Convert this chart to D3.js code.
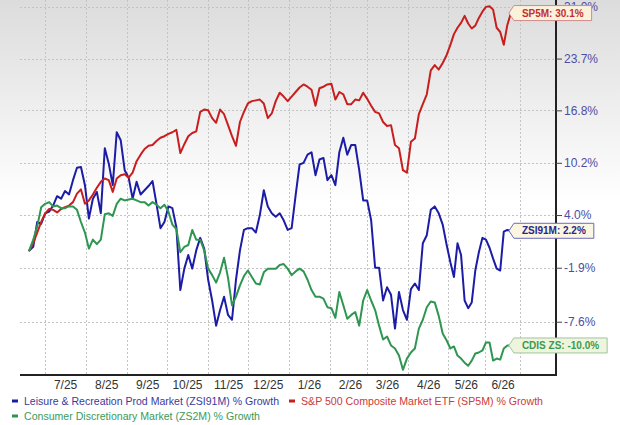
<!DOCTYPE html>
<html><head><meta charset="utf-8">
<script src="https://cdn.jsdelivr.net/npm/d3@7"></script>
<style>html,body{margin:0;padding:0;background:#fff;} svg{display:block;font-family:"Liberation Sans",Arial,sans-serif;}</style>
</head><body><svg id="c" width="620" height="425"></svg>
<script>
const dates = [
"2025-06-19","2025-06-22","2025-06-25","2025-06-28",
"2025-07-01","2025-07-04","2025-07-07","2025-07-10","2025-07-13","2025-07-16","2025-07-19","2025-07-22","2025-07-25","2025-07-28","2025-07-31",
"2025-08-03","2025-08-06","2025-08-09","2025-08-12","2025-08-15","2025-08-18","2025-08-21","2025-08-24","2025-08-27","2025-08-30",
"2025-09-02","2025-09-05","2025-09-08","2025-09-11","2025-09-14","2025-09-17","2025-09-20","2025-09-23","2025-09-26","2025-09-29",
"2025-10-02","2025-10-05","2025-10-08","2025-10-11","2025-10-14","2025-10-17","2025-10-20","2025-10-23","2025-10-26","2025-10-29",
"2025-11-01","2025-11-04","2025-11-07","2025-11-10","2025-11-13","2025-11-16","2025-11-19","2025-11-22","2025-11-25","2025-11-28",
"2025-12-01","2025-12-04","2025-12-07","2025-12-10","2025-12-13","2025-12-16","2025-12-19","2025-12-22","2025-12-25","2025-12-28","2025-12-31",
"2026-01-03","2026-01-06","2026-01-09","2026-01-12","2026-01-15","2026-01-18","2026-01-21","2026-01-24","2026-01-27","2026-01-30",
"2026-02-02","2026-02-05","2026-02-08","2026-02-11","2026-02-14","2026-02-17","2026-02-20","2026-02-23","2026-02-26",
"2026-03-01","2026-03-04","2026-03-07","2026-03-10","2026-03-13","2026-03-16","2026-03-19","2026-03-22","2026-03-25","2026-03-28","2026-03-31",
"2026-04-03","2026-04-06","2026-04-09","2026-04-12","2026-04-15","2026-04-18","2026-04-21","2026-04-24","2026-04-27","2026-04-30",
"2026-05-03","2026-05-06","2026-05-09","2026-05-12","2026-05-15","2026-05-18","2026-05-21","2026-05-24","2026-05-27","2026-05-30",
"2026-06-02","2026-06-05","2026-06-08","2026-06-11","2026-06-14","2026-06-17","2026-06-20","2026-06-23"];

// Leisure & Recreation Prod Market (ZSI91M) % growth
const leisure = [
0.0,0.4,3.2,3.0,
4.2,4.4,5.1,6.2,5.9,6.8,6.4,8.1,9.6,9.7,7.5,
3.6,5.9,6.7,4.2,12.0,10.1,7.5,14.0,13.0,9.3,
8.4,5.9,7.9,6.4,6.9,7.4,8.0,5.3,2.5,3.2,
5.0,4.8,2.6,-4.3,-2.0,-0.5,-2.0,0.0,1.4,0.2,
-3.2,-5.4,-8.0,-6.4,-5.0,-6.9,-7.4,-3.2,0.0,2.3,
2.5,2.5,2.0,4.0,6.9,5.0,4.2,3.8,4.2,3.4,2.3,
2.5,6.3,10.0,10.2,11.2,11.5,8.7,10.6,10.8,8.1,
8.7,7.5,11.5,13.3,11.2,12.4,12.4,9.3,5.7,
5.7,3.4,-1.9,-1.9,-5.4,-4.0,-4.8,-8.3,-4.5,-6.4,-7.4,
-4.2,-3.6,-4.3,0.8,1.7,4.6,5.0,4.2,2.9,0.6,
-1.3,-2.9,0.8,-0.5,-5.4,-6.2,-5.6,-2.2,-0.2,1.4,
1.2,0.3,-0.9,-2.0,-2.2,2.1,2.3,2.2];

// S&P 500 Composite Market ETF (SP5M) % growth
const sp500 = [
0.0,0.8,2.0,3.2,
4.2,4.7,4.6,4.3,4.7,4.9,5.1,5.5,6.5,7.0,5.3,
5.7,6.4,7.2,7.9,8.3,8.1,6.7,8.3,8.7,8.8,
8.4,9.0,10.4,11.2,11.9,12.3,12.4,12.9,13.3,13.5,
13.8,14.0,14.3,11.4,12.5,13.5,13.9,14.1,16.6,16.9,
16.8,15.8,15.2,16.9,16.3,14.9,13.5,12.3,15.3,16.6,
17.7,18.0,18.1,18.2,17.7,15.8,16.4,18.0,19.1,18.6,18.0,
18.6,19.2,19.8,20.2,19.9,19.5,17.4,19.7,19.9,20.2,
20.3,18.2,19.2,18.9,17.6,17.6,18.2,18.1,19.1,
18.3,17.4,16.6,16.4,15.3,14.8,14.9,12.4,12.0,9.3,9.0,
12.8,13.2,16.3,17.6,18.9,22.1,22.8,22.2,23.1,24.2,
25.6,27.1,28.0,28.7,29.7,28.6,27.9,28.3,29.4,30.3,
31.0,31.1,30.6,28.0,27.4,25.6,28.4,30.1];

// Consumer Discretionary Market (ZS2M) % growth
const consDisc = [
0.0,1.2,2.7,4.9,
5.3,5.5,5.0,5.1,4.8,4.8,5.0,5.0,4.6,3.2,2.0,
0.2,1.2,0.7,1.2,4.1,4.2,3.9,5.3,5.9,5.7,
5.8,5.9,5.7,5.5,5.5,5.1,5.5,5.2,4.8,5.2,
4.4,2.9,2.4,-0.2,0.4,0.6,2.3,1.2,1.2,0.0,
-2.0,-2.7,-3.5,-2.4,-0.8,-3.0,-5.9,-5.0,-3.8,-2.8,
-2.2,-2.9,-3.6,-3.7,-2.4,-2.0,-2.0,-2.0,-1.6,-1.5,-2.0,
-2.7,-2.3,-2.0,-2.3,-3.2,-4.3,-5.0,-5.0,-5.2,-6.1,
-6.2,-7.2,-4.5,-5.9,-7.3,-6.9,-6.6,-8.0,-5.4,
-4.3,-5.4,-6.4,-8.0,-9.4,-9.1,-10.0,-10.3,-11.0,-12.4,-11.3,
-10.7,-10.3,-8.3,-7.4,-6.1,-5.5,-5.6,-7.0,-8.8,-9.5,
-10.3,-10.1,-11.0,-11.3,-11.7,-12.0,-11.5,-10.8,-10.7,-10.5,
-9.7,-9.7,-11.5,-11.3,-11.4,-10.3,-10.0,-10.0];

const yTickValues = [31.0, 23.7, 16.8, 10.2, 4.0, -1.9, -7.6];
const xTickLabels = ["7/25","8/25","9/25","10/25","11/25","12/25","1/26","2/26","3/26","4/26","5/26","6/26"];
const legendNames = [
  "Leisure & Recreation Prod Market (ZSI91M) % Growth",
  "S&P 500 Composite Market ETF (SP5M) % Growth",
  "Consumer Discretionary Market (ZS2M) % Growth"];
const calloutNames = ["ZSI91M", "SP5M", "CDIS ZS"];

const W = 620, H = 425;
const plot = {left: 20, right: 556, top: 0, bottom: 375};
const parse = d3.timeParse("%Y-%m-%d");
const t = dates.map(parse);

const x = d3.scaleTime()
  .domain([new Date(2025,5,12), new Date(2026,4,1), new Date(2026,6,31)])
  .range([plot.left, plot.left + 428, plot.right]);
const yLog = d3.scaleLog().domain([0.871, 1.32]).range([plot.bottom, plot.top]);
const y = v => yLog(1 + v / 100);

const svg = d3.select("#c");
const defs = svg.append("defs");
const grad = defs.append("linearGradient").attr("id","bg").attr("x1",0).attr("y1",0).attr("x2",0).attr("y2",1);
grad.append("stop").attr("offset","0").attr("stop-color","#dcdcdc");
grad.append("stop").attr("offset","0.48").attr("stop-color","#ffffff");
grad.append("stop").attr("offset","1").attr("stop-color","#ffffff");
svg.append("rect").attr("width",W).attr("height",H).attr("fill","url(#bg)");

// gridlines
const grid = svg.append("g").attr("stroke","#c4c4c4").attr("stroke-width",1).attr("stroke-dasharray","2,2");
grid.selectAll("line.h").data(yTickValues).join("line")
  .attr("x1",plot.left).attr("x2",plot.right)
  .attr("y1",d=>Math.round(y(d))+0.5).attr("y2",d=>Math.round(y(d))+0.5);
const months = d3.timeMonth.range(new Date(2025,6,1), new Date(2026,6,2));
grid.selectAll("line.v").data(months).join("line")
  .attr("x1",d=>Math.round(x(d))+0.5).attr("x2",d=>Math.round(x(d))+0.5)
  .attr("y1",plot.top).attr("y2",plot.bottom);

// lines
const series = [
  {name: legendNames[0], values: leisure, color: "#1c1ca6", label: calloutNames[0], text: "#26268c", fill: "#fbf6e1", stroke: "#6a6abd"},
  {name: legendNames[1], values: sp500, color: "#c81e1e", label: calloutNames[1], text: "#c42e2e", fill: "#fcf2dc", stroke: "#d08a8a"},
  {name: legendNames[2], values: consDisc, color: "#2e9650", label: calloutNames[2], text: "#3a9a4f", fill: "#eff5dc", stroke: "#9cc69c"}
];
const line = d3.line().x((d,i)=>x(t[i])).y(d=>y(d));
const drawOrder = [0, 1, 2];
drawOrder.forEach(k => {
  const s = series[k];
  svg.append("path").datum(s.values).attr("d", line)
    .attr("fill","none").attr("stroke", s.color).attr("stroke-width", 2)
    .attr("stroke-linejoin","round").attr("stroke-linecap","round");
});

// frame
svg.append("line").attr("x1",plot.left).attr("x2",plot.right+1).attr("y1",plot.bottom).attr("y2",plot.bottom)
  .attr("stroke","#222").attr("stroke-width",2);
svg.append("line").attr("x1",plot.right).attr("x2",plot.right).attr("y1",plot.top).attr("y2",plot.bottom)
  .attr("stroke","#222").attr("stroke-width",2);

// y axis (right)
const yAxis = d3.axisRight(yLog)
  .tickValues(yTickValues.map(v => 1 + v / 100))
  .tickFormat((d,i) => yTickValues[i].toFixed(1) + "%")
  .tickSize(6).tickPadding(2);
const ya = svg.append("g").attr("transform",`translate(${plot.right},0)`).call(yAxis);
ya.select(".domain").remove();
ya.selectAll(".tick line").attr("stroke","#444");
ya.selectAll(".tick text").attr("fill","#4d4da2").attr("font-size","12px")
  .attr("font-family","'Liberation Sans',Arial,sans-serif");

// x axis
const midMonths = xTickLabels.map((d,i) => new Date(2025, 6 + i, 16));
const xAxis = d3.axisBottom(x).tickValues(midMonths)
  .tickFormat((d,i) => xTickLabels[i]).tickSize(0).tickPadding(5);
const xa = svg.append("g").attr("transform",`translate(0,${plot.bottom})`).call(xAxis);
xa.select(".domain").remove();
xa.selectAll(".tick text").attr("fill","#333").attr("font-size","12px")
  .attr("font-family","'Liberation Sans',Arial,sans-serif");

// legend
const legendItems = [
  {s: series[0], x: 12, y: 401, len: 255, tcol: "#3a3a9c"},
  {s: series[1], x: 289, y: 401, len: 242, tcol: "#cc3a3a"},
  {s: series[2], x: 12, y: 416, len: 236, tcol: "#3a9a5a"}
];
const lg = svg.append("g");
legendItems.forEach(it => {
  lg.append("rect").attr("x", it.x).attr("y", it.y - 1.5).attr("width", 6).attr("height", 3).attr("fill", it.s.color);
  lg.append("text").attr("x", it.x + 12).attr("y", it.y + 4).text(it.s.name)
    .attr("font-size","11px").attr("fill", it.tcol)
    .attr("textLength", it.len).attr("lengthAdjust","spacingAndGlyphs");
});

// callouts
const lastIdx = dates.length - 1;
series.forEach(s => {
  const v = s.values[lastIdx];
  const cy = y(v);
  const tip = x(t[lastIdx]) - 2;
  const g = svg.append("g");
  const txt = g.append("text").attr("x", tip + 13).attr("y", cy + 3.6)
    .attr("font-size","10px").attr("font-weight","bold").attr("fill", s.text)
    .text(`${s.label}: ${v.toFixed(1)}%`);
  const w = txt.node().getComputedTextLength();
  const right = tip + 13 + w + 8;
  g.insert("path","text")
    .attr("d", `M${tip},${cy} L${tip+5},${cy-7.5} L${right},${cy-7.5} L${right},${cy+7.5} L${tip+5},${cy+7.5} Z`)
    .attr("fill", s.fill).attr("stroke", s.stroke).attr("stroke-width", 1);
});
</script>
</body></html>
